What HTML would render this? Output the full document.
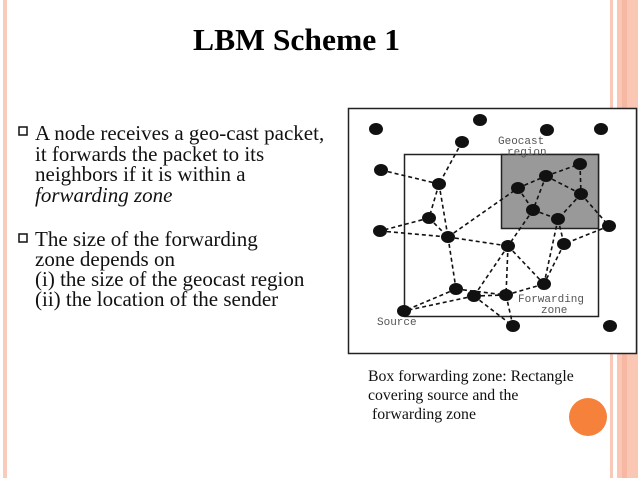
<!DOCTYPE html>
<html><head><meta charset="utf-8"><style>
html,body{margin:0;padding:0;background:#fff;}
svg{display:block;}
</style></head><body>
<svg width="638" height="478" viewBox="0 0 638 478" xmlns="http://www.w3.org/2000/svg">
<rect x="0" y="0" width="638" height="478" fill="#fff"/>
<rect x="3" y="0" width="4" height="478" fill="#f8cbbb"/>
<rect x="610" y="0" width="3" height="478" fill="#f8c9b8"/>
<rect x="617" y="0" width="21" height="478" fill="#f9c7b4"/>
<rect x="622" y="0" width="5" height="478" fill="#f6b8a2"/>
<text x="193" y="50" font-family="Liberation Serif" font-weight="bold" font-size="31" textLength="207" lengthAdjust="spacingAndGlyphs">LBM Scheme 1</text>
<g font-family="Liberation Serif" font-size="21" fill="#111">
<rect x="19" y="127" width="8" height="8" fill="none" stroke="#111" stroke-width="1.5"/>
<text x="35" y="140">A node receives a geo-cast packet,</text>
<text x="35" y="161">it forwards the packet to its</text>
<text x="35" y="181">neighbors if it is within a</text>
<text x="35" y="202" font-style="italic">forwarding zone</text>
<rect x="19" y="234" width="8" height="8" fill="none" stroke="#111" stroke-width="1.5"/>
<text x="35" y="246">The size of the forwarding</text>
<text x="35" y="266">zone depends on</text>
<text x="35" y="286">(i) the size of the geocast region</text>
<text x="35" y="306">(ii) the location of the sender</text>
</g>
<g font-family="Liberation Serif" font-size="15.8" fill="#111">
<text x="368" y="381">Box forwarding zone: Rectangle</text>
<text x="368" y="400">covering source and the</text>
<text x="372" y="419">forwarding zone</text>
</g>
<circle cx="588" cy="417" r="19" fill="#f5813a"/>
<rect x="348.5" y="108.5" width="288" height="245" fill="#fff" stroke="#222" stroke-width="1.5"/>
<rect x="404.5" y="154.5" width="194" height="162" fill="none" stroke="#222" stroke-width="1.5"/>
<rect x="501.5" y="154.5" width="97" height="74" fill="#999" stroke="#222" stroke-width="1.5"/>
<g font-family="Liberation Mono" font-size="11" fill="#555">
<text x="498" y="144">Geocast</text>
<text x="507" y="155">region</text>
<text x="518" y="302">Forwarding</text>
<text x="541" y="313">zone</text>
<text x="377" y="325">Source</text>
</g>
<g stroke="#111" stroke-width="1.6" stroke-dasharray="4,3" fill="none">
<line x1="462" y1="142" x2="439" y2="184"/>
<line x1="381" y1="170" x2="439" y2="184"/>
<line x1="439" y1="184" x2="429" y2="218"/>
<line x1="439" y1="184" x2="448" y2="237"/>
<line x1="429" y1="218" x2="380" y2="231"/>
<line x1="429" y1="218" x2="448" y2="237"/>
<line x1="380" y1="231" x2="448" y2="237"/>
<line x1="448" y1="237" x2="518" y2="188"/>
<line x1="448" y1="237" x2="508" y2="246"/>
<line x1="448" y1="237" x2="456" y2="289"/>
<line x1="518" y1="188" x2="546" y2="176"/>
<line x1="546" y1="176" x2="580" y2="164"/>
<line x1="580" y1="164" x2="581" y2="194"/>
<line x1="546" y1="176" x2="581" y2="194"/>
<line x1="546" y1="176" x2="533" y2="210"/>
<line x1="518" y1="188" x2="533" y2="210"/>
<line x1="533" y1="210" x2="558" y2="219"/>
<line x1="581" y1="194" x2="558" y2="219"/>
<line x1="581" y1="194" x2="609" y2="226"/>
<line x1="609" y1="226" x2="564" y2="244"/>
<line x1="558" y1="219" x2="564" y2="244"/>
<line x1="558" y1="219" x2="544" y2="284"/>
<line x1="564" y1="244" x2="544" y2="284"/>
<line x1="533" y1="210" x2="508" y2="246"/>
<line x1="508" y1="246" x2="474" y2="296"/>
<line x1="508" y1="246" x2="506" y2="295"/>
<line x1="508" y1="246" x2="544" y2="284"/>
<line x1="456" y1="289" x2="404" y2="311"/>
<line x1="474" y1="296" x2="404" y2="311"/>
<line x1="456" y1="289" x2="506" y2="295"/>
<line x1="474" y1="296" x2="506" y2="295"/>
<line x1="506" y1="295" x2="544" y2="284"/>
<line x1="474" y1="296" x2="513" y2="326"/>
<line x1="506" y1="295" x2="513" y2="326"/>
</g>
<g fill="#111">
<ellipse cx="376" cy="129" rx="7" ry="6"/>
<ellipse cx="480" cy="120" rx="7" ry="6"/>
<ellipse cx="547" cy="130" rx="7" ry="6"/>
<ellipse cx="601" cy="129" rx="7" ry="6"/>
<ellipse cx="462" cy="142" rx="7" ry="6"/>
<ellipse cx="381" cy="170" rx="7" ry="6"/>
<ellipse cx="439" cy="184" rx="7" ry="6"/>
<ellipse cx="580" cy="164" rx="7" ry="6"/>
<ellipse cx="546" cy="176" rx="7" ry="6"/>
<ellipse cx="518" cy="188" rx="7" ry="6"/>
<ellipse cx="581" cy="194" rx="7" ry="6"/>
<ellipse cx="533" cy="210" rx="7" ry="6"/>
<ellipse cx="558" cy="219" rx="7" ry="6"/>
<ellipse cx="429" cy="218" rx="7" ry="6"/>
<ellipse cx="380" cy="231" rx="7" ry="6"/>
<ellipse cx="448" cy="237" rx="7" ry="6"/>
<ellipse cx="609" cy="226" rx="7" ry="6"/>
<ellipse cx="508" cy="246" rx="7" ry="6"/>
<ellipse cx="564" cy="244" rx="7" ry="6"/>
<ellipse cx="544" cy="284" rx="7" ry="6"/>
<ellipse cx="456" cy="289" rx="7" ry="6"/>
<ellipse cx="474" cy="296" rx="7" ry="6"/>
<ellipse cx="506" cy="295" rx="7" ry="6"/>
<ellipse cx="404" cy="311" rx="7" ry="6"/>
<ellipse cx="513" cy="326" rx="7" ry="6"/>
<ellipse cx="610" cy="326" rx="7" ry="6"/>
</g>
</svg>
</body></html>
